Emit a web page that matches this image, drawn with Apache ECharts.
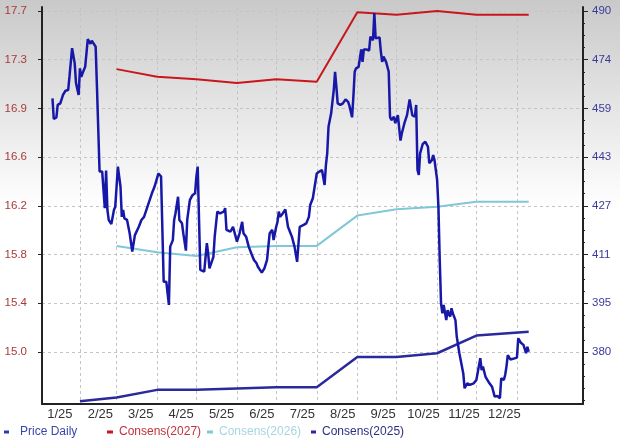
<!DOCTYPE html>
<html><head><meta charset="utf-8">
<script src="https://cdn.jsdelivr.net/npm/echarts@6/dist/echarts.min.js"></script>
<style>html,body{margin:0;padding:0;background:#fff}#c{width:620px;height:442px}</style>
</head><body><div id="c"></div>
<script>
const monthLabels = ['1/25','2/25','3/25','4/25','5/25','6/25','7/25','8/25','9/25','10/25','11/25','12/25'];
const leftTickLabels = ['15.0','15.4','15.8','16.2','16.6','16.9','17.3','17.7'];
const rightTickLabels = ['380','395','411','427','443','459','474','490'];

const priceDates = [
'2025-01-11','2025-01-12','2025-01-14','2025-01-15','2025-01-17','2025-01-19','2025-01-21','2025-01-23','2025-01-24','2025-01-26',
'2025-01-28','2025-01-29','2025-01-31','2025-02-01','2025-02-02','2025-02-04','2025-02-05','2025-02-06','2025-02-07','2025-02-09',
'2025-02-10','2025-02-11','2025-02-13','2025-02-14','2025-02-16','2025-02-18','2025-02-19','2025-02-20','2025-02-21','2025-02-22',
'2025-02-23','2025-02-25','2025-02-27','2025-02-28','2025-03-02','2025-03-04','2025-03-05','2025-03-06','2025-03-07','2025-03-09',
'2025-03-11','2025-03-13','2025-03-15','2025-03-18','2025-03-20','2025-03-22','2025-03-25','2025-03-28','2025-03-30','2025-04-02',
'2025-04-04','2025-04-06','2025-04-08','2025-04-10','2025-04-11','2025-04-13','2025-04-14','2025-04-15','2025-04-17','2025-04-18',
'2025-04-20','2025-04-21','2025-04-23','2025-04-24','2025-04-26','2025-04-28','2025-04-30','2025-05-01','2025-05-02','2025-05-04',
'2025-05-05','2025-05-07','2025-05-09','2025-05-10','2025-05-11','2025-05-14','2025-05-15','2025-05-17','2025-05-19','2025-05-22',
'2025-05-23','2025-05-24','2025-05-27','2025-05-29','2025-05-31','2025-06-01','2025-06-03','2025-06-05','2025-06-06','2025-06-08',
'2025-06-10','2025-06-12','2025-06-14','2025-06-16','2025-06-17','2025-06-20','2025-06-22','2025-06-24','2025-06-26','2025-06-28',
'2025-06-29','2025-07-01','2025-07-02','2025-07-03','2025-07-04','2025-07-06','2025-07-08','2025-07-10','2025-07-13','2025-07-15',
'2025-07-17','2025-07-19','2025-07-22','2025-07-24','2025-07-26','2025-07-27','2025-07-29','2025-08-01','2025-08-03','2025-08-05',
'2025-08-06','2025-08-07','2025-08-08','2025-08-09','2025-08-10','2025-08-12','2025-08-14','2025-08-15','2025-08-16','2025-08-17',
'2025-08-19','2025-08-21','2025-08-23','2025-08-25','2025-08-26','2025-08-28','2025-08-29','2025-08-30','2025-08-31','2025-09-02',
'2025-09-04','2025-09-05','2025-09-06','2025-09-08','2025-09-10','2025-09-11','2025-09-13','2025-09-14','2025-09-15','2025-09-18',
'2025-09-19','2025-09-20','2025-09-21','2025-09-23','2025-09-25','2025-09-26','2025-09-27','2025-09-29','2025-09-30','2025-10-02',
'2025-10-04','2025-10-05','2025-10-07','2025-10-09','2025-10-11','2025-10-13','2025-10-14','2025-10-15','2025-10-16','2025-10-17',
'2025-10-18','2025-10-19','2025-10-21','2025-10-23','2025-10-25','2025-10-26','2025-10-28','2025-10-29','2025-10-30','2025-11-01',
'2025-11-02','2025-11-03','2025-11-04','2025-11-05','2025-11-06','2025-11-08','2025-11-09','2025-11-11','2025-11-12','2025-11-13',
'2025-11-15','2025-11-16','2025-11-18','2025-11-21','2025-11-22','2025-11-24','2025-11-26','2025-11-29','2025-12-01','2025-12-04',
'2025-12-05','2025-12-06','2025-12-08','2025-12-11','2025-12-13','2025-12-15','2025-12-17','2025-12-19','2025-12-20','2025-12-21',
'2025-12-22','2025-12-23','2025-12-24','2025-12-25','2025-12-27','2025-12-29','2026-01-01','2026-01-02','2026-01-04','2026-01-05',
'2026-01-06','2026-01-07','2026-01-08','2026-01-09','2026-01-10'
];
const priceValues = [
461.8,455.2,455.7,459.7,460.2,462.9,464.3,464.5,468.8,478.0,
473.1,466.7,462.9,471.5,468.8,471.0,472.0,471.5,480.9,479.4,
480.4,480.6,478.5,465.6,438.2,438.2,437.6,426.4,438.5,425.8,
422.6,421.3,425.8,426.9,439.8,433.3,423.6,425.8,423.1,422.6,
418.3,412.4,417.7,420.4,422.6,423.6,427.4,431.2,433.3,437.6,
436.6,402.7,402.7,395.2,414.0,416.1,422.6,424.7,430.1,422.6,
421.5,418.3,412.7,422.6,429.0,430.6,431.2,436.6,439.8,406.5,
405.9,405.9,415.1,411.8,407.0,410.7,417.2,425.3,424.7,425.3,
426.4,419.4,418.8,420.4,417.2,415.6,418.3,422.0,418.3,417.2,
414.0,411.8,409.7,408.6,407.5,405.6,407.0,409.7,418.3,419.4,
416.1,420.4,422.0,425.3,423.6,424.7,426.0,420.4,417.2,414.0,
409.1,420.4,421.0,421.5,423.6,427.4,429.6,437.6,438.2,438.7,
439.3,433.9,440.3,444.1,452.7,457.0,464.5,470.4,465.6,460.2,
459.7,460.2,461.5,460.7,459.4,455.7,462.4,470.4,471.5,472.0,
477.6,473.6,477.6,477.6,477.2,481.7,480.6,489.3,481.2,481.5,
476.9,473.6,475.3,473.6,470.4,455.9,454.8,455.9,453.8,456.4,
448.2,450.5,453.8,456.4,461.5,456.4,455.9,455.9,459.7,438.7,
437.1,444.1,447.1,447.8,446.2,440.9,441.9,443.5,441.9,435.5,
426.9,409.7,395.7,392.5,395.2,390.3,393.5,391.4,394.1,392.5,
390.3,385.0,379.6,373.1,368.3,369.9,369.4,369.9,371.0,378.0,
374.2,375.3,372.0,369.9,368.8,365.6,365.8,365.1,371.5,372.0,
371.0,372.6,375.3,379.0,377.6,377.8,378.2,384.4,383.0,383.6,
382.3,382.8,379.6,381.7,380.1
];

const consDates = ['2025-02-01','2025-03-01','2025-04-01','2025-05-01','2025-06-01','2025-07-01','2025-08-01','2025-09-01','2025-10-01','2025-11-01','2025-12-01','2026-01-10'];
const cons2027 = [null,17.24,17.18,17.16,17.13,17.16,17.14,17.69,17.67,17.70,17.67,17.67];
const cons2026 = [null,15.84,15.79,15.76,15.83,15.84,15.84,16.08,16.13,16.15,16.19,16.19];
const cons2025 = [14.61,14.64,14.70,14.70,14.71,14.72,14.72,14.96,14.96,14.99,15.13,15.16];

function ticksFrom(labels){
  const a = parseFloat(labels[0]), b = parseFloat(labels[labels.length-1]);
  return labels.map((_, i) => a + i * (b - a) / (labels.length - 1));
}
const leftTicks = ticksFrom(leftTickLabels);
const rightTicks = ticksFrom(rightTickLabels);
const rightStep = (rightTicks[1] - rightTicks[0]) / 4;
const rightMinor = [];
for (let j = -4; j <= 28; j++) { if (j === -4 || j % 4 !== 0) rightMinor.push(rightTicks[0] + j * rightStep); }
function nearestLabel(v, ticks, labels){
  let b = 0; for (let i = 1; i < ticks.length; i++) if (Math.abs(ticks[i]-v) < Math.abs(ticks[b]-v)) b = i;
  return labels[b];
}
const DAY = 86400000;
const X_MIN = new Date(2025, 0, 3).getTime();
const X_MAX = new Date(2026, 1, 20, 12).getTime();
const monthStarts = monthLabels.map((_, i) => new Date(2025, i + 1, 1).getTime());
const labelSpots = monthLabels.map((_, i) => new Date(2025, 0, 1).getTime() + (15.7 + 30.88 * i) * DAY);

const FONT = 'Liberation Sans, Arial, sans-serif';
const pair = (d, v) => d.map((x, i) => [x, v[i]]);
const iconPath = (dash, total) => 'path://M0,0h' + dash + 'v3h-' + dash + 'z M' + (total - 0.01) + ',0h0.01v0.01h-0.01z';
function legendAt(name, left, color, dash, total){
  return { data: [name], left: left, top: 426, padding: 0, icon: iconPath(dash, total), itemWidth: total, itemHeight: 3,
           textStyle: { color: color, fontSize: 12, fontFamily: FONT } };
}

const chart = echarts.init(document.getElementById('c'), null, { renderer: 'canvas' });
chart.setOption({
  animation: false,
  backgroundColor: { type: 'linear', x: 0, y: 0, x2: 0, y2: 1,
    colorStops: [{ offset: 0, color: '#c9c9c9' }, { offset: 0.47, color: '#ffffff' }, { offset: 1, color: '#ffffff' }] },
  grid: { left: 42, right: 37, top: 7, bottom: 38 },
  legend: [
    legendAt('Price Daily', 4, '#3b47a8', 5, 11),
    legendAt('Consens(2027)', 107, '#c0343a', 6, 7),
    legendAt('Consens(2026)', 207, '#a6d6e0', 6, 7),
    legendAt('Consens(2025)', 311, '#2e2e86', 5, 6)
  ],
  xAxis: [
    { type: 'time', min: X_MIN, max: X_MAX, position: 'bottom',
      axisLine: { lineStyle: { color: '#222', width: 2 } },
      axisTick: { show: false }, axisLabel: { show: false }, splitLine: { show: false } },
    { type: 'value', min: X_MIN, max: X_MAX, position: 'bottom',
      axisLine: { show: false },
      axisTick: { show: false, customValues: monthStarts },
      splitLine: { show: true, lineStyle: { color: '#c4c4c4', type: [3, 3], width: 1 } },
      axisLabel: { customValues: labelSpots, color: '#333', fontSize: 13, fontFamily: FONT, margin: 4,
        formatter: v => nearestLabel(v, labelSpots, monthLabels) } }
  ],
  yAxis: [
    { type: 'value', position: 'left', min: 14.588, max: 17.732,
      axisLine: { show: true, lineStyle: { color: '#222', width: 2 } },
      axisTick: { show: true, length: 4, customValues: leftTicks, lineStyle: { color: '#222' } },
      axisLabel: { customValues: leftTicks, color: '#a83a3a', fontSize: 11.5, fontFamily: FONT, margin: 15,
        formatter: v => nearestLabel(v, leftTicks, leftTickLabels) },
      splitLine: { show: true, lineStyle: { color: '#c4c4c4', type: [3, 3], width: 1 } } },
    { type: 'value', position: 'right', min: 363.23, max: 491.29,
      axisLine: { show: true, lineStyle: { color: '#222', width: 2 } },
      axisTick: { show: true, length: 5, customValues: rightTicks, lineStyle: { color: '#222' } },
      axisLabel: { customValues: rightTicks, color: '#3a3a9a', fontSize: 11.5, fontFamily: FONT, margin: 9,
        formatter: v => nearestLabel(v, rightTicks, rightTickLabels) },
      splitLine: { show: false } },
    { type: 'value', position: 'right', min: 363.23, max: 491.29,
      axisLine: { show: false }, axisLabel: { show: false }, splitLine: { show: false },
      axisTick: { show: true, length: 2, customValues: rightMinor, lineStyle: { color: '#222' } } }
  ],
  series: [
    { name: 'Consens(2027)', type: 'line', xAxisIndex: 0, yAxisIndex: 0, data: pair(consDates, cons2027), showSymbol: false, symbol: 'none',
      lineStyle: { color: '#c8161c', width: 2 }, itemStyle: { color: '#c8161c' } },
    { name: 'Consens(2026)', type: 'line', xAxisIndex: 0, yAxisIndex: 0, data: pair(consDates, cons2026), showSymbol: false, symbol: 'none',
      lineStyle: { color: '#80c8d6', width: 2 }, itemStyle: { color: '#80c8d6' } },
    { name: 'Consens(2025)', type: 'line', xAxisIndex: 0, yAxisIndex: 0, data: pair(consDates, cons2025), showSymbol: false, symbol: 'none',
      lineStyle: { color: '#2a2a9c', width: 2.5 }, itemStyle: { color: '#2a2a9c' } },
    { name: 'Price Daily', type: 'line', xAxisIndex: 0, yAxisIndex: 1, data: pair(priceDates, priceValues), showSymbol: false, symbol: 'none',
      lineStyle: { color: '#1818a8', width: 2.5 }, itemStyle: { color: '#2a3cb8' } }
  ]
});
</script></body></html>
